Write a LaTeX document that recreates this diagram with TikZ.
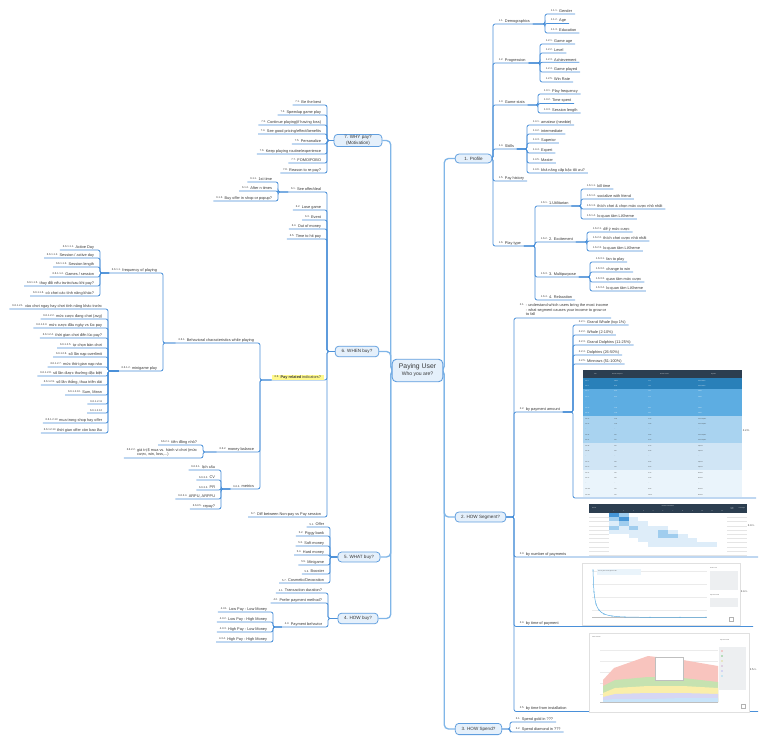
\documentclass[tikz,border=0pt]{standalone}
\usepackage{fontspec}
\setmainfont{Liberation Sans}
\usetikzlibrary{positioning,calc,backgrounds}

\definecolor{linkcolor}{RGB}{74,144,217}
\definecolor{trunkcolor}{RGB}{128,182,232}
\definecolor{topicfill}{RGB}{229,240,251}
\definecolor{topicdraw}{RGB}{96,158,222}
\definecolor{markcolor}{RGB}{255,249,140}
\definecolor{textgray}{RGB}{55,55,55}
\definecolor{headcolor}{RGB}{44,62,80}
\definecolor{band1}{RGB}{41,128,185}
\definecolor{band2}{RGB}{93,173,226}
\definecolor{band3}{RGB}{169,211,240}
\definecolor{band4}{RGB}{208,229,245}
\definecolor{band5}{RGB}{234,244,251}
\definecolor{heat0}{RGB}{255,255,255}
\definecolor{heat1}{RGB}{222,237,249}
\definecolor{heat2}{RGB}{160,205,238}
\definecolor{heat3}{RGB}{70,150,215}
\definecolor{panelgray}{RGB}{237,239,241}
\definecolor{areared}{RGB}{248,196,190}
\definecolor{areagreen}{RGB}{198,226,176}
\definecolor{areayellow}{RGB}{250,238,170}
\definecolor{areapurple}{RGB}{214,214,244}
\definecolor{areablue}{RGB}{200,228,250}

\newcommand\leaffont{\fontsize{5.5}{6.3}\selectfont}
\newcommand\tnum[1]{\raisebox{1.3pt}{\fontsize{3.8}{4}\selectfont #1}\hspace{2.2pt}}
\newcommand\imgfont{\fontsize{1.7}{2}\selectfont}

\tikzset{
    topic/.style={
        rectangle,
        rounded corners=5pt,
        draw=topicdraw,
        fill=topicfill,
        line width=1.1pt,
        align=center,
        text=textgray,
        inner xsep=6pt,
        inner ysep=2pt,
        minimum height=14pt,
        font=\fontsize{6.5}{7.5}\selectfont
    },
    central/.style={topic, rounded corners=6pt, line width=1.3pt,
        minimum width=72pt, minimum height=32pt, font=\fontsize{9.7}{11}\selectfont},
    leaf/.style={inner xsep=4pt, inner ysep=1.3pt, font=\leaffont, text=textgray},
    rleaf/.style={leaf, anchor=south west},
    lleaf/.style={leaf, anchor=south east},
    numlabel/.style={inner sep=1pt, anchor=west, font=\fontsize{3.8}{4}\selectfont, text=textgray},
    link/.style={draw=linkcolor, line width=1.1pt, rounded corners=3pt},
    trunk/.style={draw=trunkcolor, line width=1.9pt, rounded corners=6pt},
    cell/.style={inner sep=0pt, anchor=west, font=\imgfont}
}

\begin{document}
\begin{tikzpicture}[x=0.05cm, y=-0.05cm]
    \useasboundingbox (0,0) rectangle (768,742);

    % Center
    \node[central] (pu) at (417.5,370.5) {Paying User\\[-1pt]{\fontsize{7.2}{8}\selectfont Who you are?}};

    % Main topics
    \node[topic, minimum width=52pt, minimum height=12.5pt] (prof) at (473.5,158.5) {1. Profile};
    \node[topic, minimum width=72pt] (seg) at (480.5,517) {2. HOW Segment?};
    \node[topic, minimum width=66pt, minimum height=16pt] (spend) at (478.5,729) {3. HOW Spend?};
    \node[topic, minimum width=68pt] (why) at (358,140.5) {7. WHY pay?\\(Motivation)};
    \node[topic, minimum width=62pt, minimum height=15pt] (when) at (357,351.5) {6. WHEN buy?};
    \node[topic, minimum width=60pt] (what) at (359,557) {5. WHAT buy?};
    \node[topic, minimum width=57pt, minimum height=15pt] (how) at (358,618.5) {4. HOW buy?};

    % 1. Profile
    \node[rleaf] (p11) at (496,24) {\tnum{1.1.}Demographics};
    \node[rleaf] (p111) at (548,14) {\tnum{1.1.1.}Gender};
    \node[rleaf] (p112) at (548,23.4) {\tnum{1.1.2.}Age};
    \node[rleaf] (p113) at (548,33) {\tnum{1.1.3.}Education};
    \node[rleaf] (p12) at (496,63) {\tnum{1.2.}Progression};
    \node[rleaf] (p121) at (543,44) {\tnum{1.2.1.}Game age};
    \node[rleaf] (p122) at (543,53) {\tnum{1.2.2.}Level};
    \node[rleaf] (p123) at (543,62.3) {\tnum{1.2.3.}Achievement};
    \node[rleaf] (p124) at (543,72) {\tnum{1.2.4.}Game played};
    \node[rleaf] (p125) at (543,82) {\tnum{1.2.5.}Win Rate};
    \node[rleaf] (p13) at (496,105) {\tnum{1.3.}Game stats};
    \node[rleaf] (p131) at (541,94) {\tnum{1.3.1.}Play frequency};
    \node[rleaf] (p132) at (541,103.5) {\tnum{1.3.2.}Time spent};
    \node[rleaf] (p133) at (541,113) {\tnum{1.3.3.}Session length};
    \node[rleaf] (p14) at (496,149) {\tnum{1.4.}Skills};
    \node[rleaf] (p141) at (530,125) {\tnum{1.4.1.}amateur (newbie)};
    \node[rleaf] (p142) at (530,134) {\tnum{1.4.2.}intermediate};
    \node[rleaf] (p143) at (530,143) {\tnum{1.4.3.}Superior};
    \node[rleaf] (p144) at (530,153) {\tnum{1.4.4.}Expert};
    \node[rleaf] (p145) at (530,163) {\tnum{1.4.5.}Master};
    \node[rleaf] (p146) at (530,173) {\tnum{1.4.6.}khả năng cấp bậc tối ưu?};
    \node[rleaf] (p15) at (496,181) {\tnum{1.5.}Pay history};
    \node[rleaf] (p16) at (496,246) {\tnum{1.6.}Play type};
    \node[rleaf] (p161) at (538,206) {\tnum{1.6.1.}1.Utilitarian};
    \node[rleaf] (p1611) at (584,189) {\tnum{1.6.1.1.}kill time};
    \node[rleaf] (p1612) at (584,199) {\tnum{1.6.1.2.}socialize with friend};
    \node[rleaf] (p1613) at (584,209) {\tnum{1.6.1.3.}thích chơi \& chọn mức cược nhỏ nhất};
    \node[rleaf] (p1614) at (584,219) {\tnum{1.6.1.4.}lo quan tâm LiXheme};
    \node[rleaf] (p162) at (538,242) {\tnum{1.6.2.}2. Excitement};
    \node[rleaf] (p1621) at (590,232) {\tnum{1.6.2.1.}để ý mức cược};
    \node[rleaf] (p1622) at (590,241) {\tnum{1.6.2.2.}thích chơi cược nhỏ nhất};
    \node[rleaf] (p1623) at (590,251) {\tnum{1.6.2.3.}lo quan tâm LiXheme};
    \node[rleaf] (p163) at (538,277) {\tnum{1.6.3.}3. Multipurpose};
    \node[rleaf] (p1631) at (593,262) {\tnum{1.6.3.1.}fan to play};
    \node[rleaf] (p1632) at (593,272) {\tnum{1.6.3.2.}change to win};
    \node[rleaf] (p1633) at (593,282) {\tnum{1.6.3.3.}quan tâm mức cược};
    \node[rleaf] (p1634) at (593,291) {\tnum{1.6.3.4.}lo quan tâm LiXheme};
    \node[rleaf] (p164) at (538,300) {\tnum{1.6.4.}4. Relaxation};

    % 2. HOW Segment?
    \node[rleaf, align=left] (s21) at (517,318) {\tnum{2.1.}\begin{tabular}[t]{@{}l@{}}- understand which users bring the most income\\- what segment causes your income to grow or\\to fall\end{tabular}};
    \node[rleaf] (s22) at (517,412) {\tnum{2.2.}by payment amount};
    \node[rleaf] (s221) at (576,325) {\tnum{2.2.1.}Grand Whale (top 1\%)};
    \node[rleaf] (s222) at (576,335) {\tnum{2.2.2.}Whale (2-10\%)};
    \node[rleaf] (s223) at (576,345) {\tnum{2.2.3.}Grand Dolphins (11-25\%)};
    \node[rleaf] (s224) at (576,355) {\tnum{2.2.4.}Dolphins (26-50\%)};
    \node[rleaf] (s225) at (576,364) {\tnum{2.2.5.}Minnows (51-100\%)};
    \coordinate (i226) at (576,498);
    \coordinate (i226e) at (756,498);
    \node[numlabel] (l226) at (742,431) {2.2.6.};
    \node[rleaf] (s23) at (517,557) {\tnum{2.3.}by number of payments};
    \coordinate (i231e) at (758,557);
    \node[numlabel] (l231) at (747,526) {2.3.1.};
    \node[rleaf] (s24) at (517,626.5) {\tnum{2.4.}by time of payment};
    \coordinate (i241e) at (753,626.5);
    \node[numlabel] (l241) at (740,592) {2.4.1.};
    \node[rleaf] (s25) at (517,711.5) {\tnum{2.5.}by time from installation};
    \coordinate (i251e) at (758,711.5);
    \node[numlabel] (l251) at (749,670) {2.5.1.};

    % 3. HOW Spend?
    \node[rleaf] (d31) at (513,722) {\tnum{3.1.}Spend gold in ???};
    \node[rleaf] (d32) at (513,732) {\tnum{3.2.}Spend diamond in ???};

    % 7. WHY pay?
    \node[lleaf] (w71) at (324,105) {\tnum{7.1.}Be the best};
    \node[lleaf] (w72) at (324,115) {\tnum{7.2.}Speedup game play};
    \node[lleaf] (w73) at (324,125) {\tnum{7.3.}Continue playing(if having loss)};
    \node[lleaf] (w74) at (324,134) {\tnum{7.4.}See good pricing/effect/benefits};
    \node[lleaf] (w75) at (324,144) {\tnum{7.5.}Personalize};
    \node[lleaf] (w76) at (324,154) {\tnum{7.6.}Keep playing routine/experience};
    \node[lleaf] (w77) at (324,163) {\tnum{7.7.}FOMO/FOBO};
    \node[lleaf] (w78) at (324,173) {\tnum{7.8.}Reason to re-pay?};

    % 6. WHEN buy?
    \node[lleaf] (t61) at (324,192) {\tnum{6.1.}See offer/deal};
    \node[lleaf] (t611) at (275,182) {\tnum{6.1.1.}1st time};
    \node[lleaf] (t612) at (275,191) {\tnum{6.1.2.}After n times};
    \node[lleaf] (t613) at (275,201) {\tnum{6.1.3.}Buy offer in shop or popup?};
    \node[lleaf] (t62) at (324,210) {\tnum{6.2.}Lose game};
    \node[lleaf] (t63) at (324,220) {\tnum{6.3.}Event};
    \node[lleaf] (t64) at (324,229) {\tnum{6.4.}Out of money};
    \node[lleaf] (t65) at (324,239) {\tnum{6.5.}Time to hit pay};
    \node[lleaf, fill=markcolor, inner ysep=0.8pt] (t66) at (324,380) {\tnum{6.6.}\textbf{Pay related} indicators?};
    \node[lleaf] (t661) at (257,343) {\tnum{6.6.1.}Behavioral characteristics while playing};
    \node[lleaf] (t6611) at (160,273) {\tnum{6.6.1.1.}frequency of playing};
    \node[lleaf] (t66111) at (97,250) {\tnum{6.6.1.1.1.}Active Day};
    \node[lleaf] (t66112) at (97,258) {\tnum{6.6.1.1.2.}Session / active day};
    \node[lleaf] (t66113) at (97,267) {\tnum{6.6.1.1.3.}Session length};
    \node[lleaf] (t66114) at (97,277) {\tnum{6.6.1.1.4.}Games / session};
    \node[lleaf] (t66115) at (97,286) {\tnum{6.6.1.1.5.}thay đổi nếu trước/sau khi pay?};
    \node[lleaf] (t66116) at (97,296) {\tnum{6.6.1.1.6.}có chơi các tính năng khác?};
    \node[lleaf] (t6612) at (160,371) {\tnum{6.6.1.2.}minigame play};
    \node[lleaf] (t66121) at (105,309) {\tnum{6.6.1.2.1.}vào chơi ngay hay chơi tính năng khác trước};
    \node[lleaf] (t66122) at (105,319) {\tnum{6.6.1.2.2.}mức cược đang chơi (avg)};
    \node[lleaf] (t66123) at (105,328) {\tnum{6.6.1.2.3.}mức cược đầu ngày vs lúc pay};
    \node[lleaf] (t66124) at (105,338) {\tnum{6.6.1.2.4.}thời gian chơi đến lúc pay?};
    \node[lleaf] (t66125) at (105,348) {\tnum{6.6.1.2.5.}tự chọn bàn chơi};
    \node[lleaf] (t66126) at (105,357) {\tnum{6.6.1.2.6.}số lần nạp overlimit};
    \node[lleaf] (t66127) at (105,367) {\tnum{6.6.1.2.7.}mức thời gian nạp nào};
    \node[lleaf] (t66128) at (105,376) {\tnum{6.6.1.2.8.}số lần được thưởng đặc biệt};
    \node[lleaf] (t66129) at (105,385) {\tnum{6.6.1.2.9.}số lần thắng, thua triền dài};
    \node[lleaf] (t661210) at (105,395) {\tnum{6.6.1.2.10.}Sum, Mean};
    \node[lleaf] (t661211) at (105,404) {\tnum{6.6.1.2.11}};
    \node[lleaf] (t661212) at (105,413) {\tnum{6.6.1.2.12}};
    \node[lleaf] (t661213) at (105,423) {\tnum{6.6.1.2.13}mua trong shop hay offer};
    \node[lleaf] (t661214) at (105,433) {\tnum{6.6.1.2.14}thời gian offer còn bao lâu};
    \node[lleaf] (t662) at (257,452) {\tnum{6.6.2.}money balance};
    \node[lleaf] (t6621) at (200,445) {\tnum{6.6.2.1.}tiền đồng nhỏ?};
    \node[lleaf, align=left] (t6622) at (200,458) {\tnum{6.6.2.2.}\begin{tabular}[t]{@{}l@{}}giá trị \$ mua vs. hành vi chơi (mức\\cược, win, loss,...)\end{tabular}};
    \node[lleaf] (t663) at (257,489) {\tnum{6.6.3.}metrics};
    \node[lleaf] (t6631) at (218,470) {\tnum{6.6.3.1.}lịch cấu};
    \node[lleaf] (t6632) at (218,480) {\tnum{6.6.3.2.}CV};
    \node[lleaf] (t6633) at (218,490) {\tnum{6.6.3.3.}PR};
    \node[lleaf] (t6634) at (218,499) {\tnum{6.6.3.4.}ARPU, ARPPU};
    \node[lleaf] (t6635) at (218,509) {\tnum{6.6.3.5.}repay?};
    \node[lleaf] (t67) at (324,517) {\tnum{6.7.}Diff between Non-pay vs Pay session};

    % 5. WHAT buy?
    \node[lleaf] (b51) at (327,527) {\tnum{5.1.}Offer};
    \node[lleaf] (b52) at (327,536) {\tnum{5.2.}Piggy bank};
    \node[lleaf] (b53) at (327,546) {\tnum{5.3.}Soft money};
    \node[lleaf] (b54) at (327,555) {\tnum{5.4.}Hard money};
    \node[lleaf] (b55) at (327,565) {\tnum{5.5.}Minigame};
    \node[lleaf] (b56) at (327,574) {\tnum{5.6.}Booster};
    \node[lleaf] (b57) at (327,583) {\tnum{5.7.}Cosmetic/Decoration};

    % 4. HOW buy?
    \node[lleaf] (h41) at (325,593) {\tnum{4.1.}Transaction duration?};
    \node[lleaf] (h42) at (325,603) {\tnum{4.2.}Prefer payment method?};
    \node[lleaf] (h43) at (325,627) {\tnum{4.3.}Payment behavior};
    \node[lleaf] (h431) at (270,612) {\tnum{4.3.1.}Low Pay - Low Money};
    \node[lleaf] (h432) at (270,622) {\tnum{4.3.2.}Low Pay - High Money};
    \node[lleaf] (h433) at (270,632) {\tnum{4.3.3.}High Pay - Low Money};
    \node[lleaf] (h434) at (270,642) {\tnum{4.3.4.}High Pay - High Money};

    % Table of users (2.2.6)
    \fill[headcolor] (583,370) rectangle (742,378);
    \node[cell, text=white] at (594,374) {User};
    \node[cell, text=white] at (612,374) {Amount of Payment};
    \node[cell, text=white] at (660,374) {Percent of users};
    \node[cell, text=white] at (711,374) {Segment};
    \foreach \i/\c in {1/band1,2/band1,3/band2,4/band2,5/band2,6/band2,7/band2,8/band3,9/band3,10/band3,11/band3,12/band3,13/band4,14/band4,15/band4,16/band4,17/band4,18/band5,19/band5,20/band5,21/band5,22/band5}
        \fill[\c] (583,{378+(\i-1)*5.43}) rectangle (742,{378+\i*5.43});
    \foreach \i/\u/\a/\p/\s in {1/User 1/236.84/0.1\%/Grand whales,2/User 2/96.92/1.0\%/Grand whales,3/User 3/48.91/2.0\%/whales,4/User 4/48.87/2.7\%/whales,5/\ldots/\ldots/\ldots/\ldots,6/User 13/12.95/8.6\%/whales,7/User 14/12.95/9.5\%/whales}
    {
        \node[cell, text=white] at (585,{380.7+(\i-1)*5.43}) {\u};
        \node[cell, text=white] at (614,{380.7+(\i-1)*5.43}) {\a};
        \node[cell, text=white] at (648,{380.7+(\i-1)*5.43}) {\p};
        \node[cell, text=white] at (698,{380.7+(\i-1)*5.43}) {\s};
    }
    \foreach \i/\u/\a/\p/\s in {8/User 15/12.93/10.1\%/Grand dolphins,9/User 16/12.93/10.8\%/Grand dolphins,10/\ldots/\ldots/\ldots/\ldots,11/User 36/9.99/24.0\%/Grand dolphins,12/User 37/9.99/25.0\%/Grand dolphins,13/User 38/9.99/25.7\%/Dolphins,14/User 39/9.99/26.4\%/Dolphins,15/\ldots/\ldots/\ldots/\ldots,16/User 72/5.98/49.3\%/Dolphins,17/User 73/5.98/50.0\%/Dolphins,18/User 74/5.98/50.7\%/Minnows,19/User 75/5.98/51.4\%/Minnows,20/\ldots/\ldots/\ldots/\ldots,21/User 199/4.99/99.3\%/Minnows,22/User 200/4.99/100.0\%/Minnows}
    {
        \node[cell, text=textgray] at (585,{380.7+(\i-1)*5.43}) {\u};
        \node[cell, text=textgray] at (614,{380.7+(\i-1)*5.43}) {\a};
        \node[cell, text=textgray] at (648,{380.7+(\i-1)*5.43}) {\p};
        \node[cell, text=textgray] at (698,{380.7+(\i-1)*5.43}) {\s};
    }

    % Heat table (2.3.1)
    \fill[headcolor] (589,504) rectangle (747,513);
    \node[cell, text=white] at (592,508.5) {Amount};
    \node[cell, text=white, anchor=center] at (668,506.5) {Number of transactions};
    \foreach \k in {1,2,3,4,5,6,7,8,9,10,11,12}
        \node[cell, text=white, anchor=center] at ({609+(\k-0.5)*9.83},511) {\k};
    \node[cell, text=white, anchor=center, align=center] at (732,508.5) {Total\\users};
    \node[cell, text=white, anchor=center] at (742,508.5) {Percentage};
    \foreach \r/\vals in {1/{3,2,0,0,0,0,0,0,0,0,0,0},2/{2,3,1,0,0,0,0,0,0,0,0,0},3/{1,2,1,1,0,0,0,0,0,0,0,0},4/{2,1,2,1,1,1,0,0,0,0,0,0},5/{1,1,1,1,1,2,1,0,0,0,0,0},6/{0,0,1,1,1,2,2,1,0,0,0,0},7/{0,0,0,1,1,1,1,1,1,0,0,0},8/{0,0,0,0,1,1,1,1,1,1,1,0},9/{0,0,0,0,0,0,0,0,0,0,0,0},10/{0,0,0,0,0,0,0,0,0,0,0,0}}
    {
        \foreach \v [count=\c] in \vals
            \fill[heat\v] ({609+(\c-1)*9.83},{513+(\r-1)*4.2}) rectangle ({609+\c*9.83},{513+\r*4.2});
        \draw[black!10, line width=0.2pt] (589,{513+\r*4.2}) -- (747,{513+\r*4.2});
    }

    % Line chart (2.4.1)
    \draw[black!12, fill=white, line width=0.3pt] (582,563) rectangle (740,625);
    \foreach \g in {571,584,597,610}
        \draw[black!8, line width=0.2pt] (592,\g) -- (707,\g);
    \draw[black!25, line width=0.2pt] (592,617.5) -- (707,617.5);
    \fill[band5] (597,568.5) rectangle (641,574.5);
    \node[cell, text=textgray] at (598,571.5) {Với các game có thời gian chơi dài};
    \draw[band2, line width=0.7pt] plot[smooth] coordinates {(593,570) (594,592) (596,604) (599,610) (604,614) (612,616) (625,617) (650,617.3) (706,617.3)};
    \foreach \px/\py in {593/570,594/592,596/604,599/610,604/614,612/616,625/617,650/617.3,680/617.3,706/617.3}
        \fill[band2] (\px,\py) circle (0.6);
    \node[cell, text=textgray] at (710,568) {Series in use};
    \fill[panelgray] (710,571) rectangle (738,590);
    \node[cell, text=textgray] at (710,595) {Days from install};
    \fill[panelgray] (710,598) rectangle (738,607);
    \draw[black!30, line width=0.2pt] (729,617) rectangle (733,621);

    % Area chart (2.5.1)
    \draw[black!12, fill=white, line width=0.3pt] (589,633) rectangle (749,712);
    \node[cell, text=textgray] at (592,637) {Users Overview};
    \foreach \g in {650,661,672,683,694}
        \draw[black!8, line width=0.2pt] (600,\g) -- (718,\g);
    \fill[areared] plot coordinates {(603,680) (614,668) (648,656) (683,660) (718,666)} -- (718,702) -- (603,702) -- cycle;
    \fill[areagreen] plot coordinates {(603,686) (615,680) (648,677) (683,678) (718,682)} -- (718,702) -- (603,702) -- cycle;
    \fill[areayellow] plot coordinates {(603,693) (615,688) (648,686) (683,686) (718,688)} -- (718,702) -- (603,702) -- cycle;
    \fill[areapurple] plot coordinates {(603,697) (615,694) (648,693) (683,693) (718,694)} -- (718,702) -- (603,702) -- cycle;
    \fill[areablue] plot coordinates {(603,700) (615,699) (648,699) (683,698) (718,698)} -- (718,702) -- (603,702) -- cycle;
    \draw[black!25, line width=0.2pt] (600,702) -- (718,702);
    \draw[black!25, fill=white, line width=0.2pt] (655,657) rectangle (683,680);
    \node[cell, text=textgray] at (720,640) {Days from install};
    \fill[panelgray] (719,647) rectangle (746,690);
    \foreach \k/\c in {0/red!70,1/green!60!black,2/yellow!80!black,3/violet!60,4/blue!50,5/cyan!70}
        \fill[\c] (722,{651+\k*5}) circle (0.7);
    \draw[black!30, line width=0.2pt] (741,704) rectangle (745,708);

    % Connectors
    \begin{pgfonlayer}{background}
        \fill[white] (0,0) rectangle (768,742);
        \foreach \t in {prof,seg,spend}
            \draw[trunk] (pu.east) -- ++(1,0) |- (\t.west);
        \foreach \t in {why,when,what,how}
            \draw[trunk] (pu.west) -- ++(-1,0) |- (\t.east);

        \foreach \c in {p11,p12,p13,p14,p15,p16}
            \draw[link] (prof.east) -| ([xshift=-1.5mm]\c.south west) -- (\c.south east);
        \foreach \c in {p111,p112,p113}
            \draw[link] (p11.south east) -| ([xshift=-1.5mm]\c.south west) -- (\c.south east);
        \foreach \c in {p121,p122,p123,p124,p125}
            \draw[link] (p12.south east) -| ([xshift=-1.5mm]\c.south west) -- (\c.south east);
        \foreach \c in {p131,p132,p133}
            \draw[link] (p13.south east) -| ([xshift=-1.5mm]\c.south west) -- (\c.south east);
        \foreach \c in {p141,p142,p143,p144,p145,p146}
            \draw[link] (p14.south east) -| ([xshift=-1.5mm]\c.south west) -- (\c.south east);
        \foreach \c in {p161,p162,p163,p164}
            \draw[link] (p16.south east) -| ([xshift=-1.5mm]\c.south west) -- (\c.south east);
        \foreach \c in {p1611,p1612,p1613,p1614}
            \draw[link] (p161.south east) -| ([xshift=-1.5mm]\c.south west) -- (\c.south east);
        \foreach \c in {p1621,p1622,p1623}
            \draw[link] (p162.south east) -| ([xshift=-1.5mm]\c.south west) -- (\c.south east);
        \foreach \c in {p1631,p1632,p1633,p1634}
            \draw[link] (p163.south east) -| ([xshift=-1.5mm]\c.south west) -- (\c.south east);

        \foreach \c in {s21,s22}
            \draw[link] (seg.east) -| ([xshift=-1.5mm]\c.south west) -- (\c.south east);
        \draw[link] (seg.east) -| ([xshift=-1.5mm]s23.south west) -- (i231e);
        \draw[link] (seg.east) -| ([xshift=-1.5mm]s24.south west) -- (i241e);
        \draw[link] (seg.east) -| ([xshift=-1.5mm]s25.south west) -- (i251e);
        \foreach \c in {s221,s222,s223,s224,s225}
            \draw[link] (s22.south east) -| ([xshift=-1.5mm]\c.south west) -- (\c.south east);
        \draw[link] (s22.south east) -| ([xshift=-1.5mm]i226) -- (i226e);
        \foreach \c in {d31,d32}
            \draw[link] (spend.east) -| ([xshift=-1.5mm]\c.south west) -- (\c.south east);

        \foreach \c in {w71,w72,w73,w74,w75,w76,w77,w78}
            \draw[link] (why.west) -| ([xshift=1.5mm]\c.south east) -- (\c.south west);
        \foreach \c in {t61,t62,t63,t64,t65,t66,t67}
            \draw[link] (when.west) -| ([xshift=1.5mm]\c.south east) -- (\c.south west);
        \foreach \c in {t611,t612,t613}
            \draw[link] (t61.south west) -| ([xshift=1.5mm]\c.south east) -- (\c.south west);
        \foreach \c in {t661,t662,t663}
            \draw[link] (t66.south west) -| ([xshift=1.5mm]\c.south east) -- (\c.south west);
        \foreach \c in {t6611,t6612}
            \draw[link] (t661.south west) -| ([xshift=1.5mm]\c.south east) -- (\c.south west);
        \foreach \c in {t66111,t66112,t66113,t66114,t66115,t66116}
            \draw[link] (t6611.south west) -| ([xshift=1.5mm]\c.south east) -- (\c.south west);
        \foreach \c in {t66121,t66122,t66123,t66124,t66125,t66126,t66127,t66128,t66129,t661210,t661211,t661212,t661213,t661214}
            \draw[link] (t6612.south west) -| ([xshift=1.5mm]\c.south east) -- (\c.south west);
        \foreach \c in {t6621,t6622}
            \draw[link] (t662.south west) -| ([xshift=1.5mm]\c.south east) -- (\c.south west);
        \foreach \c in {t6631,t6632,t6633,t6634,t6635}
            \draw[link] (t663.south west) -| ([xshift=1.5mm]\c.south east) -- (\c.south west);

        \foreach \c in {b51,b52,b53,b54,b55,b56,b57}
            \draw[link] (what.west) -| ([xshift=1.5mm]\c.south east) -- (\c.south west);
        \foreach \c in {h41,h42,h43}
            \draw[link] (how.west) -| ([xshift=1.5mm]\c.south east) -- (\c.south west);
        \foreach \c in {h431,h432,h433,h434}
            \draw[link] (h43.south west) -| ([xshift=1.5mm]\c.south east) -- (\c.south west);
    \end{pgfonlayer}
\end{tikzpicture}
\end{document}
